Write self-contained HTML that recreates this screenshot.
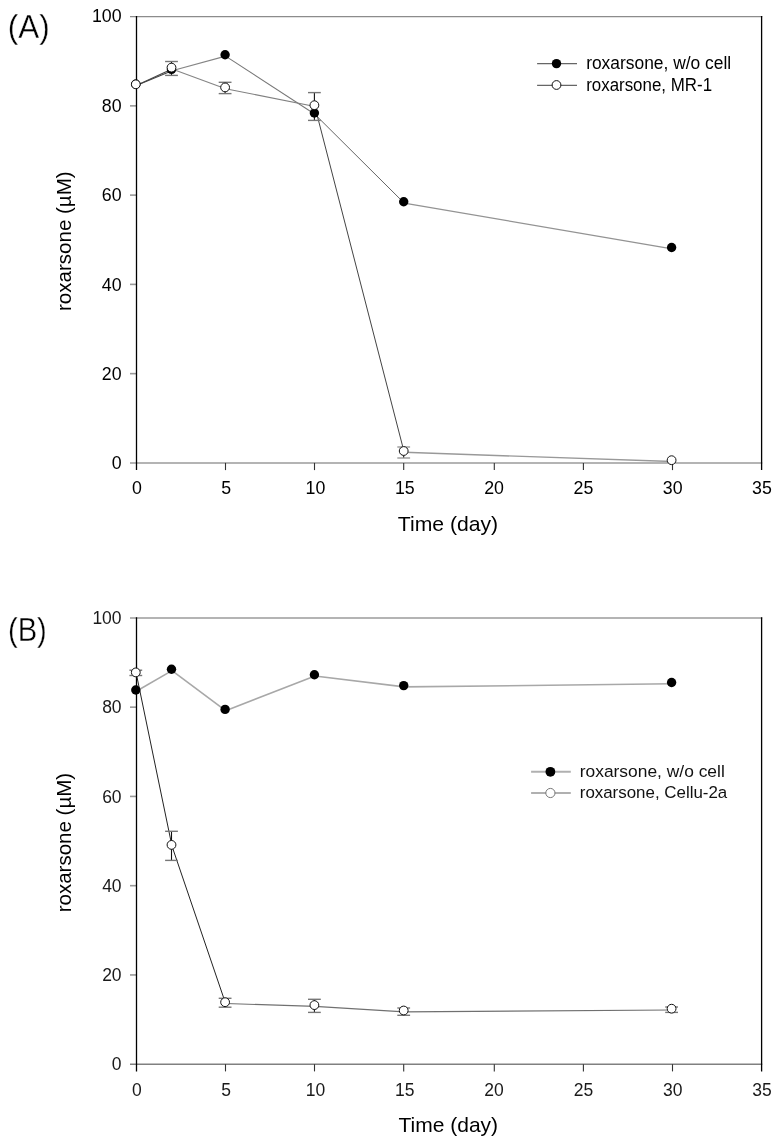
<!DOCTYPE html>
<html><head><meta charset="utf-8"><title>Roxarsone</title>
<style>html,body{margin:0;padding:0;background:#fff;width:772px;height:1144px;overflow:hidden}svg{display:block}</style>
</head><body>
<svg width="772" height="1144" viewBox="0 0 772 1144" font-family='"Liberation Sans", sans-serif'>
<rect width="772" height="1144" fill="#fff"/>
<line x1="130" y1="16.6" x2="762.3" y2="16.6" stroke="#8c8c8c" stroke-width="1.3"/>
<line x1="130" y1="462.9" x2="762.3" y2="462.9" stroke="#b4b4b4" stroke-width="2.0"/>
<line x1="130" y1="373.64" x2="136.5" y2="373.64" stroke="#999" stroke-width="1.6"/>
<line x1="130" y1="284.38" x2="136.5" y2="284.38" stroke="#999" stroke-width="1.6"/>
<line x1="130" y1="195.12" x2="136.5" y2="195.12" stroke="#999" stroke-width="1.6"/>
<line x1="130" y1="105.86" x2="136.5" y2="105.86" stroke="#999" stroke-width="1.6"/>
<line x1="225.50" y1="462.9" x2="225.50" y2="470.1" stroke="#333" stroke-width="1.1"/>
<line x1="314.50" y1="462.9" x2="314.50" y2="470.1" stroke="#333" stroke-width="1.1"/>
<line x1="403.70" y1="462.9" x2="403.70" y2="470.1" stroke="#333" stroke-width="1.1"/>
<line x1="494.30" y1="462.9" x2="494.30" y2="470.1" stroke="#333" stroke-width="1.1"/>
<line x1="583.40" y1="462.9" x2="583.40" y2="470.1" stroke="#333" stroke-width="1.1"/>
<line x1="672.50" y1="462.9" x2="672.50" y2="470.1" stroke="#333" stroke-width="1.1"/>
<line x1="136.5" y1="16.0" x2="136.5" y2="470.1" stroke="#000" stroke-width="1.3"/>
<line x1="761.6" y1="16.0" x2="761.6" y2="470.1" stroke="#000" stroke-width="1.3"/>
<line x1="136.3" y1="85.6" x2="172.0" y2="70.7" stroke="#444" stroke-width="1.1"/>
<line x1="172.0" y1="70.7" x2="225.6" y2="56.1" stroke="#858585" stroke-width="1.1"/>
<line x1="225.6" y1="56.1" x2="314.9" y2="114.3" stroke="#777" stroke-width="1.05"/>
<line x1="314.9" y1="114.3" x2="404.2" y2="203.1" stroke="#666" stroke-width="1.0"/>
<line x1="404.2" y1="203.1" x2="672.1" y2="248.8" stroke="#939393" stroke-width="1.25"/>
<line x1="136.3" y1="85.6" x2="172.0" y2="68.9" stroke="#444" stroke-width="1.1"/>
<line x1="172.0" y1="68.9" x2="225.6" y2="88.7" stroke="#858585" stroke-width="1.1"/>
<line x1="225.6" y1="88.7" x2="314.9" y2="106.5" stroke="#808080" stroke-width="1.1"/>
<line x1="314.9" y1="106.5" x2="404.2" y2="452.3" stroke="#444" stroke-width="1.0"/>
<line x1="404.2" y1="452.3" x2="672.1" y2="461.5" stroke="#999" stroke-width="1.4"/>
<line x1="171.5" y1="61.5" x2="171.5" y2="75.4" stroke="#111" stroke-width="1.1"/>
<line x1="165.1" y1="61.5" x2="177.9" y2="61.5" stroke="#777" stroke-width="1.4"/>
<line x1="165.1" y1="75.4" x2="177.9" y2="75.4" stroke="#777" stroke-width="1.4"/>
<line x1="225.1" y1="82.3" x2="225.1" y2="93.6" stroke="#111" stroke-width="1.1"/>
<line x1="218.7" y1="82.3" x2="231.5" y2="82.3" stroke="#777" stroke-width="1.4"/>
<line x1="218.7" y1="93.6" x2="231.5" y2="93.6" stroke="#777" stroke-width="1.4"/>
<line x1="314.4" y1="92.6" x2="314.4" y2="120.4" stroke="#111" stroke-width="1.1"/>
<line x1="308.0" y1="92.6" x2="320.8" y2="92.6" stroke="#777" stroke-width="1.4"/>
<line x1="308.0" y1="120.4" x2="320.8" y2="120.4" stroke="#777" stroke-width="1.4"/>
<line x1="403.7" y1="447.0" x2="403.7" y2="458.0" stroke="#111" stroke-width="1.1"/>
<line x1="397.3" y1="447.0" x2="410.1" y2="447.0" stroke="#999" stroke-width="1.4"/>
<line x1="397.3" y1="458.0" x2="410.1" y2="458.0" stroke="#999" stroke-width="1.4"/>
<circle cx="135.8" cy="84.3" r="4.7" fill="#000"/>
<circle cx="171.5" cy="69.4" r="4.7" fill="#000"/>
<circle cx="225.1" cy="54.8" r="4.7" fill="#000"/>
<circle cx="314.4" cy="113.0" r="4.7" fill="#000"/>
<circle cx="403.7" cy="201.8" r="4.7" fill="#000"/>
<circle cx="671.6" cy="247.5" r="4.7" fill="#000"/>
<circle cx="135.8" cy="84.3" r="4.4" fill="#fff" stroke="#111" stroke-width="1.0"/>
<circle cx="171.5" cy="67.6" r="4.4" fill="#fff" stroke="#111" stroke-width="1.0"/>
<circle cx="225.1" cy="87.4" r="4.4" fill="#fff" stroke="#111" stroke-width="1.0"/>
<circle cx="314.4" cy="105.2" r="4.4" fill="#fff" stroke="#111" stroke-width="1.0"/>
<circle cx="403.7" cy="451.0" r="4.4" fill="#fff" stroke="#111" stroke-width="1.0"/>
<circle cx="671.6" cy="460.2" r="4.4" fill="#fff" stroke="#111" stroke-width="1.0"/>
<text x="121.6" y="469.0" text-anchor="end" font-size="17.8" fill="#000">0</text>
<text x="121.6" y="379.7" text-anchor="end" font-size="17.8" fill="#000">20</text>
<text x="121.6" y="290.5" text-anchor="end" font-size="17.8" fill="#000">40</text>
<text x="121.6" y="201.2" text-anchor="end" font-size="17.8" fill="#000">60</text>
<text x="121.6" y="112.0" text-anchor="end" font-size="17.8" fill="#000">80</text>
<text x="121.6" y="21.7" text-anchor="end" font-size="17.8" fill="#000">100</text>
<text x="136.9" y="494.0" text-anchor="middle" font-size="17.8" fill="#000">0</text>
<text x="226.2" y="494.0" text-anchor="middle" font-size="17.8" fill="#000">5</text>
<text x="315.5" y="494.0" text-anchor="middle" font-size="17.8" fill="#000">10</text>
<text x="404.8" y="494.0" text-anchor="middle" font-size="17.8" fill="#000">15</text>
<text x="494.1" y="494.0" text-anchor="middle" font-size="17.8" fill="#000">20</text>
<text x="583.4" y="494.0" text-anchor="middle" font-size="17.8" fill="#000">25</text>
<text x="672.7" y="494.0" text-anchor="middle" font-size="17.8" fill="#000">30</text>
<text x="762.0" y="494.0" text-anchor="middle" font-size="17.8" fill="#000">35</text>
<text x="397.82" y="531" font-size="20.2" textLength="100.33" lengthAdjust="spacingAndGlyphs" fill="#000">Time (day)</text>
<text transform="translate(71,311.09) rotate(-90)" x="0" y="0" font-size="20.8" textLength="139.77" lengthAdjust="spacingAndGlyphs" fill="#000">roxarsone (µM)</text>
<text x="7.83" y="38.3" font-size="32.5" textLength="41.95" lengthAdjust="spacingAndGlyphs" fill="#000" stroke="#fff" stroke-width="0.35">(A)</text>
<line x1="537.1" y1="63.6" x2="577.0" y2="63.6" stroke="#666" stroke-width="1.2"/>
<circle cx="556.5" cy="63.6" r="4.7" fill="#000"/>
<line x1="537.1" y1="85.4" x2="577.0" y2="85.4" stroke="#666" stroke-width="1.2"/>
<circle cx="556.5" cy="85.0" r="4.4" fill="#fff" stroke="#111" stroke-width="1.0"/>
<text x="586.13" y="69" font-size="17.5" textLength="145.04" lengthAdjust="spacingAndGlyphs" fill="#000">roxarsone, w/o cell</text>
<text x="586.16" y="90.8" font-size="17.5" textLength="125.88" lengthAdjust="spacingAndGlyphs" fill="#000">roxarsone, MR-1</text>
<line x1="130" y1="617.9" x2="762.3" y2="617.9" stroke="#b4b4b4" stroke-width="2.0"/>
<line x1="130" y1="1064.2" x2="762.3" y2="1064.2" stroke="#808080" stroke-width="1.4"/>
<line x1="130" y1="974.94" x2="136.5" y2="974.94" stroke="#999" stroke-width="1.6"/>
<line x1="130" y1="885.68" x2="136.5" y2="885.68" stroke="#999" stroke-width="1.6"/>
<line x1="130" y1="796.42" x2="136.5" y2="796.42" stroke="#999" stroke-width="1.6"/>
<line x1="130" y1="707.16" x2="136.5" y2="707.16" stroke="#999" stroke-width="1.6"/>
<line x1="225.50" y1="1064.2" x2="225.50" y2="1071.4" stroke="#333" stroke-width="1.1"/>
<line x1="314.50" y1="1064.2" x2="314.50" y2="1071.4" stroke="#333" stroke-width="1.1"/>
<line x1="403.70" y1="1064.2" x2="403.70" y2="1071.4" stroke="#333" stroke-width="1.1"/>
<line x1="494.30" y1="1064.2" x2="494.30" y2="1071.4" stroke="#333" stroke-width="1.1"/>
<line x1="583.40" y1="1064.2" x2="583.40" y2="1071.4" stroke="#333" stroke-width="1.1"/>
<line x1="672.50" y1="1064.2" x2="672.50" y2="1071.4" stroke="#333" stroke-width="1.1"/>
<line x1="136.5" y1="617.3" x2="136.5" y2="1071.4" stroke="#000" stroke-width="1.3"/>
<line x1="761.6" y1="617.3" x2="761.6" y2="1071.4" stroke="#000" stroke-width="1.3"/>
<line x1="136.3" y1="691.3" x2="172.0" y2="670.6" stroke="#a8a8a8" stroke-width="1.6"/>
<line x1="172.0" y1="670.6" x2="225.6" y2="710.7" stroke="#a8a8a8" stroke-width="1.6"/>
<line x1="225.6" y1="710.7" x2="314.9" y2="676.0" stroke="#a8a8a8" stroke-width="1.6"/>
<line x1="314.9" y1="676.0" x2="404.2" y2="686.9" stroke="#a8a8a8" stroke-width="1.6"/>
<line x1="404.2" y1="686.9" x2="672.1" y2="683.8" stroke="#a8a8a8" stroke-width="1.6"/>
<line x1="136.3" y1="673.7" x2="172.0" y2="846.2" stroke="#222" stroke-width="1.0"/>
<line x1="172.0" y1="846.2" x2="225.6" y2="1003.5" stroke="#222" stroke-width="1.0"/>
<line x1="225.6" y1="1003.5" x2="314.9" y2="1006.4" stroke="#707070" stroke-width="1.2"/>
<line x1="314.9" y1="1006.4" x2="404.2" y2="1011.8" stroke="#707070" stroke-width="1.2"/>
<line x1="404.2" y1="1011.8" x2="672.1" y2="1010.0" stroke="#707070" stroke-width="1.2"/>
<line x1="135.8" y1="670.2" x2="135.8" y2="675.5" stroke="#111" stroke-width="1.1"/>
<line x1="129.4" y1="670.2" x2="142.2" y2="670.2" stroke="#777" stroke-width="1.4"/>
<line x1="129.4" y1="675.5" x2="142.2" y2="675.5" stroke="#777" stroke-width="1.4"/>
<line x1="171.5" y1="831.3" x2="171.5" y2="860.4" stroke="#111" stroke-width="1.1"/>
<line x1="165.1" y1="831.3" x2="177.9" y2="831.3" stroke="#777" stroke-width="1.4"/>
<line x1="165.1" y1="860.4" x2="177.9" y2="860.4" stroke="#777" stroke-width="1.4"/>
<line x1="225.1" y1="998.3" x2="225.1" y2="1007.2" stroke="#111" stroke-width="1.1"/>
<line x1="218.7" y1="998.3" x2="231.5" y2="998.3" stroke="#777" stroke-width="1.4"/>
<line x1="218.7" y1="1007.2" x2="231.5" y2="1007.2" stroke="#777" stroke-width="1.4"/>
<line x1="314.4" y1="999.3" x2="314.4" y2="1012.4" stroke="#111" stroke-width="1.1"/>
<line x1="308.0" y1="999.3" x2="320.8" y2="999.3" stroke="#777" stroke-width="1.4"/>
<line x1="308.0" y1="1012.4" x2="320.8" y2="1012.4" stroke="#777" stroke-width="1.4"/>
<line x1="403.7" y1="1008.0" x2="403.7" y2="1015.3" stroke="#111" stroke-width="1.1"/>
<line x1="397.3" y1="1008.0" x2="410.1" y2="1008.0" stroke="#777" stroke-width="1.4"/>
<line x1="397.3" y1="1015.3" x2="410.1" y2="1015.3" stroke="#777" stroke-width="1.4"/>
<line x1="671.6" y1="1007.0" x2="671.6" y2="1012.4" stroke="#111" stroke-width="1.1"/>
<line x1="665.2" y1="1007.0" x2="678.0" y2="1007.0" stroke="#777" stroke-width="1.4"/>
<line x1="665.2" y1="1012.4" x2="678.0" y2="1012.4" stroke="#777" stroke-width="1.4"/>
<circle cx="135.8" cy="690.0" r="4.7" fill="#000"/>
<circle cx="171.5" cy="669.3" r="4.7" fill="#000"/>
<circle cx="225.1" cy="709.4" r="4.7" fill="#000"/>
<circle cx="314.4" cy="674.7" r="4.7" fill="#000"/>
<circle cx="403.7" cy="685.6" r="4.7" fill="#000"/>
<circle cx="671.6" cy="682.5" r="4.7" fill="#000"/>
<circle cx="135.8" cy="672.4" r="4.4" fill="#fff" stroke="#111" stroke-width="1.0"/>
<circle cx="171.5" cy="844.9" r="4.4" fill="#fff" stroke="#111" stroke-width="1.0"/>
<circle cx="225.1" cy="1002.2" r="4.4" fill="#fff" stroke="#111" stroke-width="1.0"/>
<circle cx="314.4" cy="1005.1" r="4.4" fill="#fff" stroke="#111" stroke-width="1.0"/>
<circle cx="403.7" cy="1010.5" r="4.4" fill="#fff" stroke="#111" stroke-width="1.0"/>
<circle cx="671.6" cy="1008.7" r="4.4" fill="#fff" stroke="#111" stroke-width="1.0"/>
<text x="121.6" y="1070.3" text-anchor="end" font-size="17.5" fill="#1a1a1a">0</text>
<text x="121.6" y="981.0" text-anchor="end" font-size="17.5" fill="#1a1a1a">20</text>
<text x="121.6" y="891.8" text-anchor="end" font-size="17.5" fill="#1a1a1a">40</text>
<text x="121.6" y="802.5" text-anchor="end" font-size="17.5" fill="#1a1a1a">60</text>
<text x="121.6" y="713.3" text-anchor="end" font-size="17.5" fill="#1a1a1a">80</text>
<text x="121.6" y="624.0" text-anchor="end" font-size="17.5" fill="#1a1a1a">100</text>
<text x="136.9" y="1095.7" text-anchor="middle" font-size="17.5" fill="#1a1a1a">0</text>
<text x="226.2" y="1095.7" text-anchor="middle" font-size="17.5" fill="#1a1a1a">5</text>
<text x="315.5" y="1095.7" text-anchor="middle" font-size="17.5" fill="#1a1a1a">10</text>
<text x="404.8" y="1095.7" text-anchor="middle" font-size="17.5" fill="#1a1a1a">15</text>
<text x="494.1" y="1095.7" text-anchor="middle" font-size="17.5" fill="#1a1a1a">20</text>
<text x="583.4" y="1095.7" text-anchor="middle" font-size="17.5" fill="#1a1a1a">25</text>
<text x="672.7" y="1095.7" text-anchor="middle" font-size="17.5" fill="#1a1a1a">30</text>
<text x="762.0" y="1095.7" text-anchor="middle" font-size="17.5" fill="#1a1a1a">35</text>
<text x="398.53" y="1131.5" font-size="20.2" textLength="99.61" lengthAdjust="spacingAndGlyphs" fill="#000">Time (day)</text>
<text transform="translate(71,912.28) rotate(-90)" x="0" y="0" font-size="20.8" textLength="139.46" lengthAdjust="spacingAndGlyphs" fill="#000">roxarsone (µM)</text>
<text x="7.98" y="640.8" font-size="32.5" textLength="38.86" lengthAdjust="spacingAndGlyphs" fill="#000" stroke="#fff" stroke-width="0.35">(B)</text>
<line x1="531.1" y1="771.8" x2="570.8" y2="771.8" stroke="#b0b0b0" stroke-width="2.0"/>
<circle cx="550.4" cy="771.8" r="4.9" fill="#000"/>
<line x1="531.1" y1="793.0" x2="570.8" y2="793.0" stroke="#b0b0b0" stroke-width="2.0"/>
<circle cx="550.4" cy="793.0" r="4.6" fill="#fff" stroke="#777" stroke-width="1.0"/>
<text x="579.73" y="777.2" font-size="17.2" textLength="145.04" lengthAdjust="spacingAndGlyphs" fill="#111">roxarsone, w/o cell</text>
<text x="579.76" y="798.2" font-size="17.2" textLength="147.47" lengthAdjust="spacingAndGlyphs" fill="#111">roxarsone, Cellu-2a</text>
</svg>
</body></html>
